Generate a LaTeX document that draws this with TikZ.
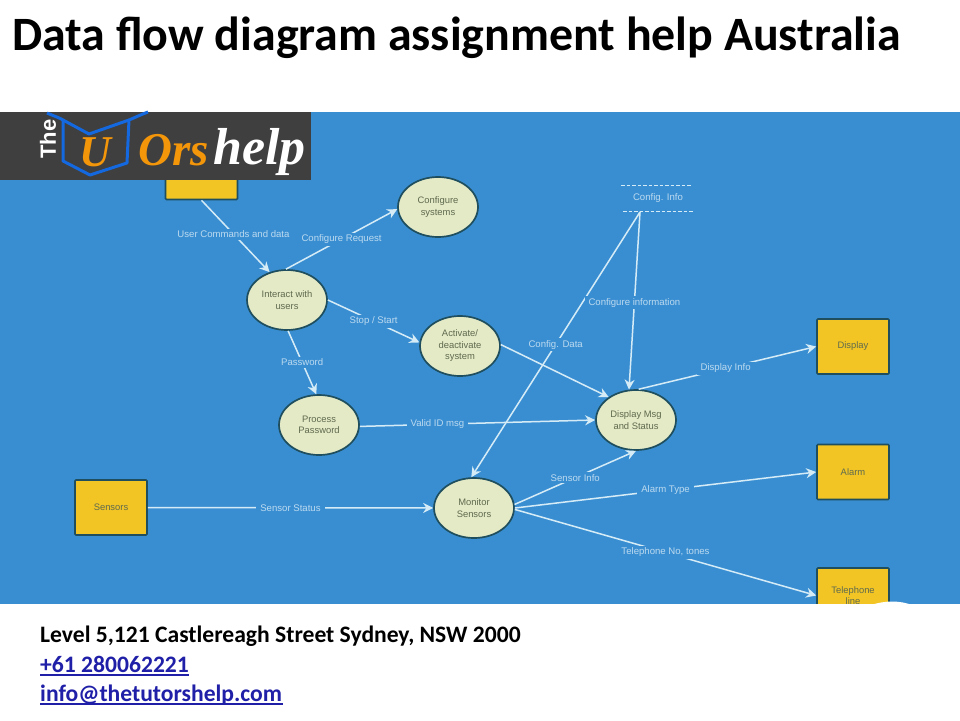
\documentclass[tikz,border=0pt]{standalone}
\usepackage{fontspec}
\setmainfont{Carlito}
\newfontfamily\logofont{Liberation Serif}
\newfontfamily\smallfont{Liberation Sans}
\usetikzlibrary{shapes.geometric,arrows.meta}
\definecolor{skyback}{HTML}{398ED2}
\definecolor{procfill}{HTML}{E4E9C6}
\definecolor{boxfill}{HTML}{F2C525}
\definecolor{edgedark}{HTML}{1F4F5E}
\definecolor{flowline}{HTML}{D5ECF7}
\definecolor{labeltext}{HTML}{BCDAEF}
\definecolor{inktext}{HTML}{5F6A4E}
\definecolor{logodark}{HTML}{3F3F3F}
\definecolor{logoblue}{HTML}{1469E0}
\definecolor{logoorange}{HTML}{F4960A}
\definecolor{linkblue}{HTML}{1F1FA8}
\tikzset{
  x=1pt,y=-1pt,
  proc/.style={ellipse,draw=edgedark,line width=1.7pt,fill=procfill,minimum width=80pt,minimum height=60pt,inner sep=0pt,align=center,font=\smallfont\fontsize{9.4}{11.5}\selectfont,text=inktext},
  term/.style={rectangle,draw=edgedark,line width=1.6pt,fill=boxfill,minimum width=72pt,minimum height=55pt,inner sep=0pt,align=center,font=\smallfont\fontsize{9.4}{11.5}\selectfont,text=inktext,rounded corners=1pt},
  flow/.style={draw=flowline,line width=1.5pt,-{Stealth[length=10pt,width=10pt]}},
  flowlabel/.style={fill=skyback,inner xsep=4pt,inner ysep=2pt,text=labeltext,font=\smallfont\fontsize{9.6}{11}\selectfont},
  storeline/.style={draw=flowline,line width=0.9pt,dash pattern=on 3.5pt off 2pt},
  foot/.style={anchor=base west,inner sep=0pt,font=\bfseries\fontsize{23.6}{26}\selectfont}
}
\begin{document}
\begin{tikzpicture}
\useasboundingbox (0,0) rectangle (960,720);
\fill[white] (0,0) rectangle (960,720);
\node[anchor=base west,inner sep=0pt,font=\bfseries\fontsize{47.9}{52}\selectfont] (title) at (12,50) {Data flow diagram assignment help Australia};
\fill[skyback] (0,112) rectangle (960,604);
% nodes
\node[term] (user) at (201.5,172) {};
\node[proc] (configure) at (438,207) {Configure\\systems};
\node[proc] (interact) at (287,300) {Interact with\\users};
\node[proc] (activate) at (460,346) {Activate/\\deactivate\\system};
\node[proc] (process) at (319,425) {Process\\Password};
\node[proc] (dispmsg) at (636,420) {Display Msg\\and Status};
\node[proc] (monitor) at (474,508) {Monitor\\Sensors};
\node[term] (sensors) at (111,507.5) {Sensors};
\node[term] (display) at (853,346.5) {Display};
\node[term] (alarm) at (853,472) {Alarm};
\node[term] (phone) at (853,595.5) {Telephone\\line};
% data store
\coordinate (storeA) at (621,185);
\coordinate (storeB) at (692,185);
\coordinate (storeC) at (623,211);
\coordinate (storeD) at (694,211);
\coordinate (storeOut) at (640,212);
\draw[storeline] (storeA) -- (storeB);
\draw[storeline] (storeC) -- (storeD);
\node[text=labeltext,font=\smallfont\fontsize{9.6}{11}\selectfont,inner sep=0pt] (storetext) at (658,198) {Config. Info};
% connectors
\draw[flow] (user.south) -- node[flowlabel,pos=.47] {User Commands and data} (interact.122);
\draw[flow] (interact.92) -- node[flowlabel,pos=.5] {Configure Request} (configure.183);
\draw[flow] (interact.0) -- node[flowlabel,pos=.5] {Stop / Start} (activate.175);
\draw[flow] (interact.-88) -- node[flowlabel,pos=.5] {Password} (process.95);
\draw[flow] (activate.2) -- (dispmsg.140);
\draw[flow] (process.-2) -- node[flowlabel,pos=.33] {Valid ID msg} (dispmsg.180);
\draw[flow] (sensors) -- node[flowlabel,pos=.5] {Sensor Status} (monitor);
\draw[flow] (storeOut) -- node[flowlabel,pos=.5] {Config. Data} (monitor.95);
\draw[flow] (storeOut) -- node[flowlabel,pos=.51] {Configure information} (dispmsg.103);
\draw[flow] (dispmsg.85) -- node[flowlabel,pos=.49] {Display Info} (display.180);
\draw[flow] (monitor.5) -- node[flowlabel,pos=.5] {Sensor Info} (dispmsg.-90);
\draw[flow] (monitor.0) -- node[flowlabel,pos=.5] {Alarm Type} (alarm.180);
\draw[flow] (monitor.-2) -- node[flowlabel,pos=.5] {Telephone No, tones} (phone.west);
% footer mask
\fill[white] (0,604) rectangle (960,720);
\fill[white] (868,606) .. controls (885,600) and (900,600) .. (915,606) -- cycle;
\node[foot,text=black] (address) at (40,642) {Level 5,121 Castlereagh Street Sydney, NSW 2000};
\node[foot,text=linkblue] (phonelink) at (40,672) {+61 280062221};
\node[foot,text=linkblue] (maillink) at (40,701) {info@thetutorshelp.com};
\draw[linkblue,line width=1.2pt] (40,675) -- (189,675);
\draw[linkblue,line width=1.2pt] (40,704) -- (283,704);
% logo
\fill[logodark] (0,112) rectangle (311,180);
\node[rotate=90,text=white,inner sep=0pt,font=\smallfont\bfseries\fontsize{22}{26}\selectfont] (logothe) at (48,139) {The};
\draw[logoblue,line width=3pt,line join=round] (47,113) .. controls (54,116) and (60,118) .. (63,120) -- (63,161) -- (90,175) -- (127,163) -- (129,120) .. controls (134,118) and (140,115) .. (148,112);
\draw[logoblue,line width=3pt,line join=round] (63,120) -- (89,134) -- (129,120);
\node[text=logoorange,inner sep=0pt,font=\logofont\bfseries\itshape\fontsize{44}{48}\selectfont] (logou) at (95,152) {U};
\node[anchor=base west,inner sep=0pt,font=\logofont\bfseries\itshape\fontsize{47}{50}\selectfont,text=logoorange] (logoors) at (138,165) {Ors};
\node[anchor=base west,inner sep=0pt,font=\logofont\bfseries\itshape\fontsize{52}{56}\selectfont,text=white] (logohelp) at (213,164) {help};
\end{tikzpicture}
\end{document}
